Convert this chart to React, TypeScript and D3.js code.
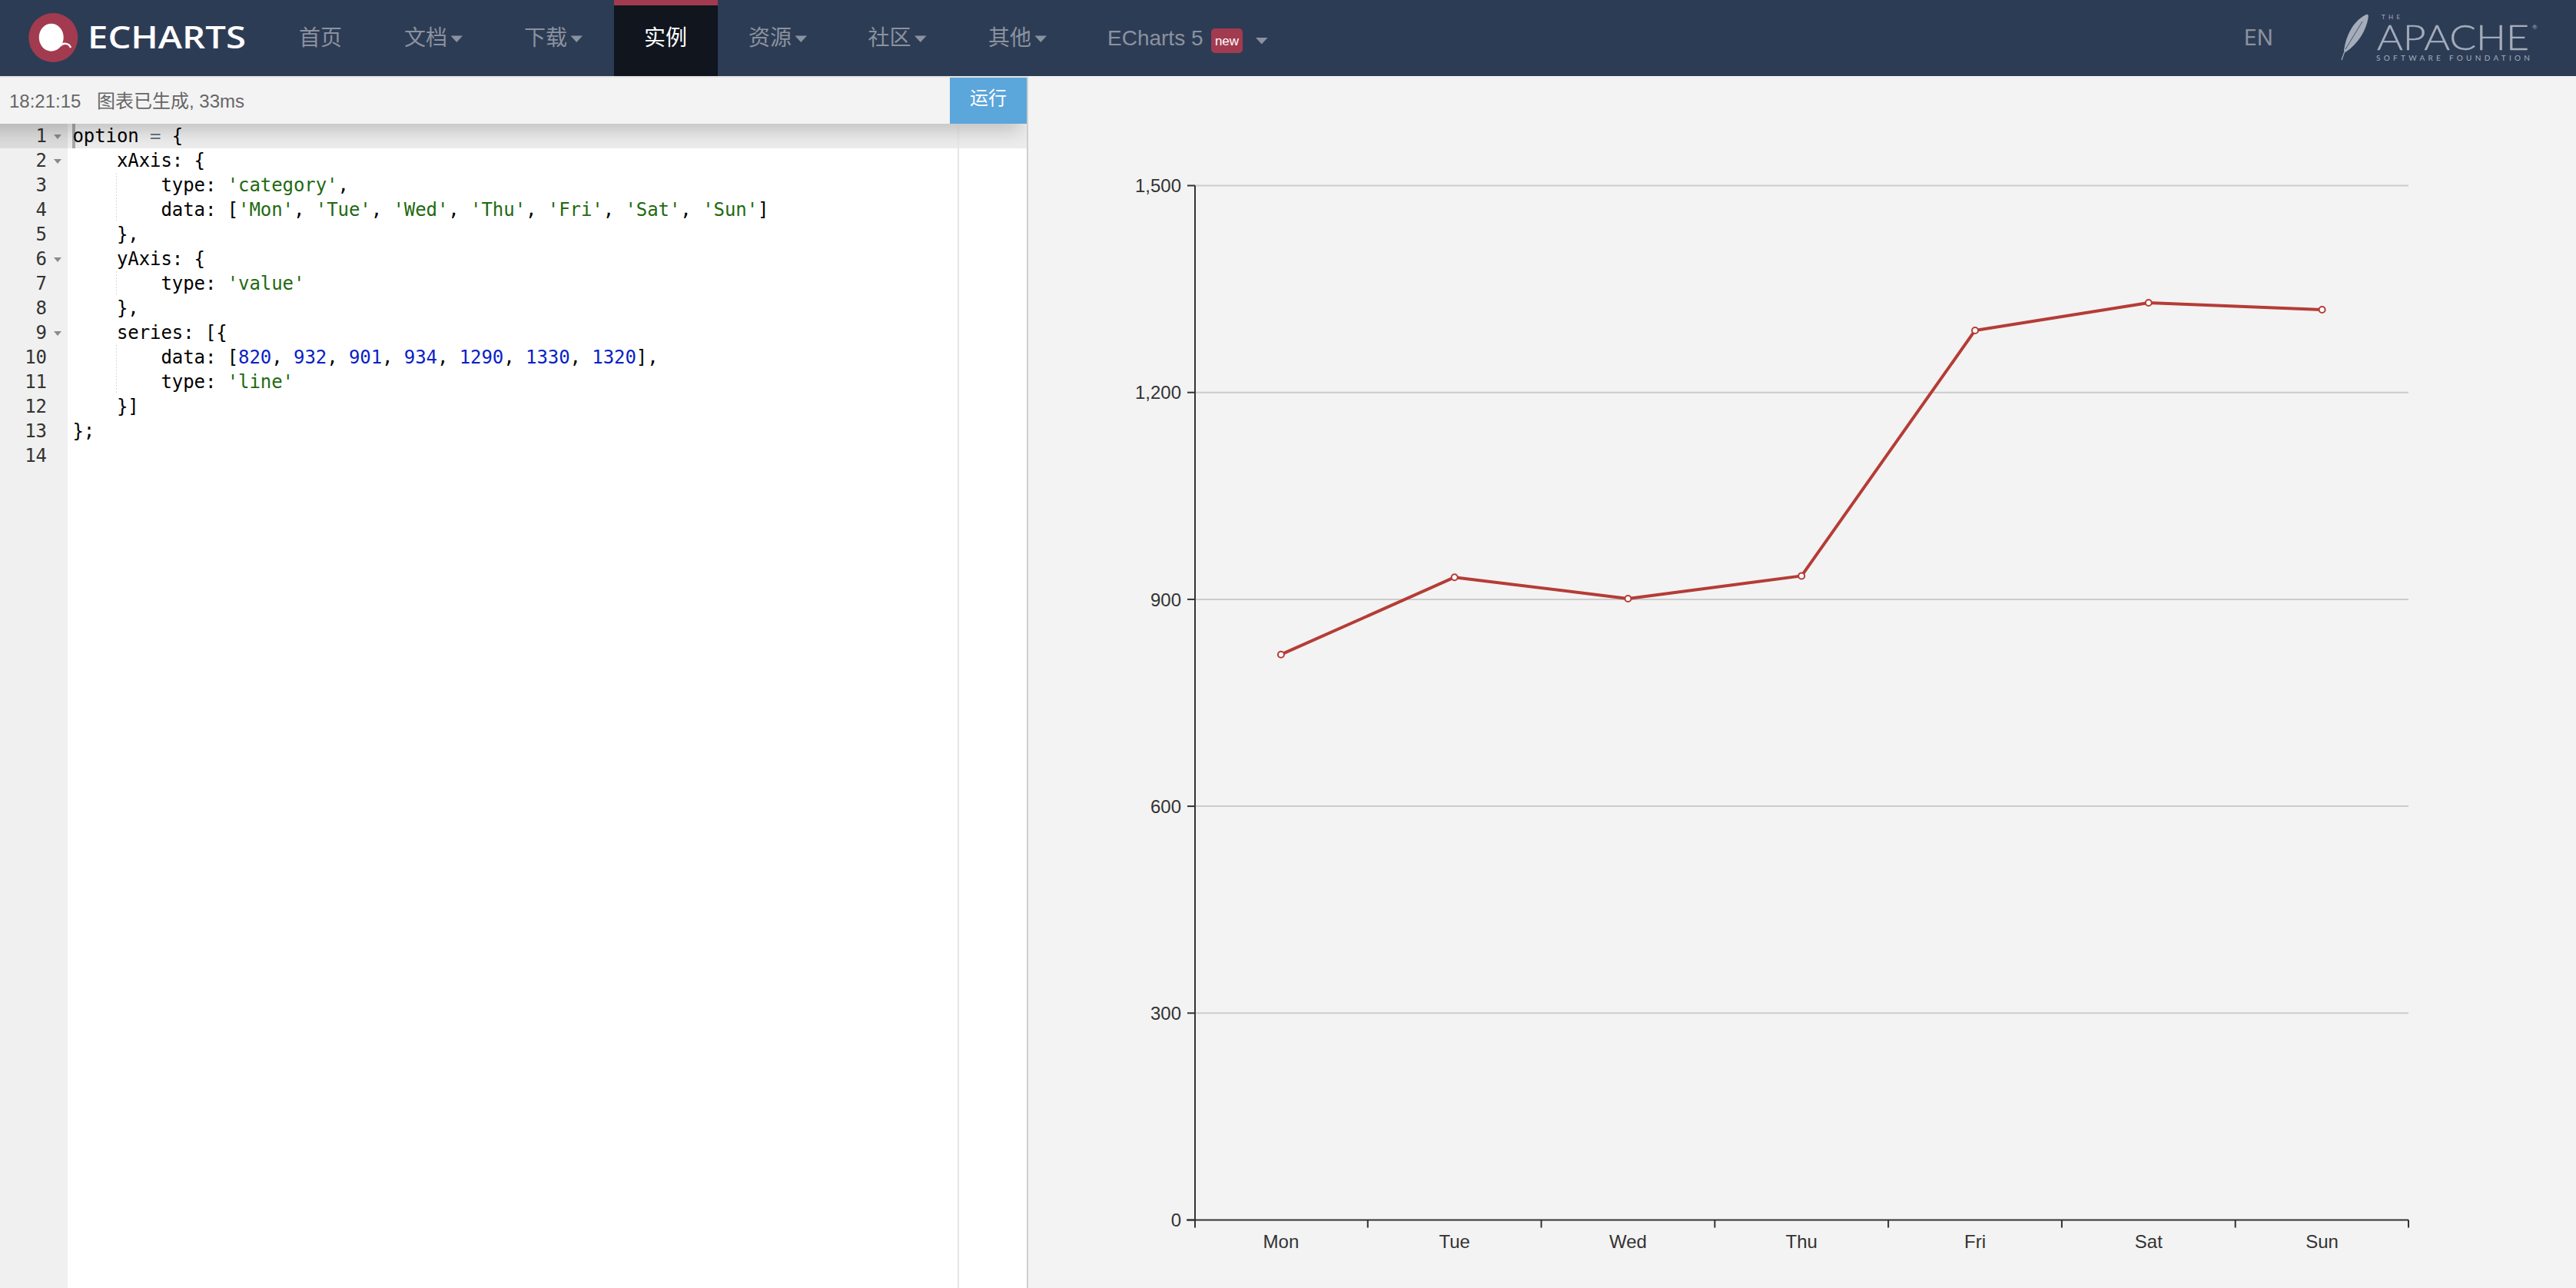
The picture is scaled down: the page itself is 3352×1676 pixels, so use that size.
import * as d3 from "d3";
import { useEffect, useRef } from "react";

const days = ["Mon", "Tue", "Wed", "Thu", "Fri", "Sat", "Sun"];
const values = [820, 932, 901, 934, 1290, 1330, 1320];
const yTicks = [0, 300, 600, 900, 1200, 1500];

const navItems = [
  { label: "首页", x: 389, caret: false },
  { label: "文档", x: 526, caret: true },
  { label: "下载", x: 682, caret: true },
  { label: "实例", x: 838, caret: false, active: true },
  { label: "资源", x: 974, caret: true },
  { label: "社区", x: 1129.5, caret: true },
  { label: "其他", x: 1286, caret: true },
];

// token classes follow the ace chrome theme
const tokenColors: Record<string, string> = {
  t: "#000000",
  s: "#1f6a10",
  n: "#0a1fc8",
  o: "#687687",
};
const codeLines: [string, string][][] = [
  [["option ", "t"], ["=", "o"], [" {", "t"]],
  [["    xAxis: {", "t"]],
  [["        type: ", "t"], ["'category'", "s"], [",", "t"]],
  [
    ["        data: [", "t"],
    ["'Mon'", "s"], [", ", "t"],
    ["'Tue'", "s"], [", ", "t"],
    ["'Wed'", "s"], [", ", "t"],
    ["'Thu'", "s"], [", ", "t"],
    ["'Fri'", "s"], [", ", "t"],
    ["'Sat'", "s"], [", ", "t"],
    ["'Sun'", "s"], ["]", "t"],
  ],
  [["    },", "t"]],
  [["    yAxis: {", "t"]],
  [["        type: ", "t"], ["'value'", "s"]],
  [["    },", "t"]],
  [["    series: [{", "t"]],
  [
    ["        data: [", "t"],
    ["820", "n"], [", ", "t"],
    ["932", "n"], [", ", "t"],
    ["901", "n"], [", ", "t"],
    ["934", "n"], [", ", "t"],
    ["1290", "n"], [", ", "t"],
    ["1330", "n"], [", ", "t"],
    ["1320", "n"], ["],", "t"],
  ],
  [["        type: ", "t"], ["'line'", "s"]],
  [["    }]", "t"]],
  [["};", "t"]],
  [],
];
const foldLines = [1, 2, 6, 9];
const guideLines = [3, 4, 7, 10, 11];

const W = 3352;
const H = 1676;
const SANS = '"Liberation Sans", "Noto Sans CJK SC", sans-serif';
const MONO = '"DejaVu Sans Mono", monospace';
const NAV_GREY = "#8b929f";
const LOGO_RED = "#a23b4f";
const LINE_RED = "#b53c36";
const APACHE_GREY = "#a5adbb";
const plot = { left: 1555, right: 3134, bandLeft: 1554, bandRight: 3134.5, top: 241.5, bottom: 1587.5 };
const code = { top: 161, lineH: 32, left: 94.4, gutter: 88, right: 1336 };

const drawChart = (target: SVGGElement) => {
  const root = d3.select(target);
  root.selectAll("*").remove();

  const x = d3.scaleBand().domain(days).range([plot.bandLeft, plot.bandRight]);
  const y = d3.scaleLinear().domain([0, 1500]).range([plot.bottom, plot.top]);

  // grid first so the axes sit on top
  const grid = root
    .append("g")
    .attr("transform", `translate(${plot.left},0)`)
    .call(
      d3
        .axisLeft(y)
        .tickValues(yTicks.slice(1))
        .tickSize(-(plot.right - plot.left))
        .tickFormat(() => "")
        .offset(0)
    );
  grid.select(".domain").remove();
  grid.selectAll("line").attr("stroke", "#cccccc").attr("stroke-width", 2);

  const yAxis = root
    .append("g")
    .attr("transform", `translate(${plot.left},0)`)
    .call(
      d3
        .axisLeft(y)
        .tickValues(yTicks)
        .tickSize(10)
        .tickSizeOuter(0)
        .tickPadding(8)
        .tickFormat(d3.format(",") as any)
        .offset(0)
    );
  yAxis.selectAll("text").attr("dy", "0.36em");

  const xAxis = root
    .append("g")
    .attr("transform", `translate(0,${plot.bottom})`)
    .call(d3.axisBottom(x).tickSize(0).tickPadding(19.5).offset(0));
  xAxis.selectAll(".tick line").remove();
  xAxis.select(".domain").attr("d", `M${plot.left - 11},0H${plot.right}`);

  // category axis ticks go on the band edges, not the centres
  xAxis
    .selectAll("line.edge")
    .data([...days.map((d) => Math.max(x(d) as number, plot.left)), plot.right])
    .join("line")
    .attr("class", "edge")
    .attr("x1", (d) => d)
    .attr("x2", (d) => d)
    .attr("y1", 0)
    .attr("y2", 10)
    .attr("stroke", "#333333")
    .attr("stroke-width", 2);

  [yAxis, xAxis].forEach((axis) => {
    axis.attr("font-family", SANS).attr("font-size", 24);
    axis.selectAll("text").attr("fill", "#333333");
    axis.selectAll(".tick line").attr("stroke", "#333333").attr("stroke-width", 2);
    axis.select(".domain").attr("stroke", "#333333").attr("stroke-width", 2);
  });

  const points = days.map((d, i) => ({
    x: (x(d) as number) + x.bandwidth() / 2,
    y: y(values[i]),
  }));
  const line = d3
    .line<{ x: number; y: number }>()
    .x((d) => d.x)
    .y((d) => d.y);

  root
    .append("path")
    .attr("d", line(points))
    .attr("fill", "none")
    .attr("stroke", LINE_RED)
    .attr("stroke-width", 4)
    .attr("stroke-linejoin", "bevel");

  root
    .append("g")
    .selectAll("circle")
    .data(points)
    .join("circle")
    .attr("cx", (d) => d.x)
    .attr("cy", (d) => d.y)
    .attr("r", 4)
    .attr("fill", "#ffffff")
    .attr("stroke", LINE_RED)
    .attr("stroke-width", 2);
};

const caret = (x: number, y: number, w = 15.5, h = 8.5) =>
  `M${x},${y}L${x + w},${y}L${x + w / 2},${y + h}Z`;

const App = () => {
  const chartRef = useRef<SVGGElement>(null);
  useEffect(() => {
    if (chartRef.current) drawChart(chartRef.current);
  }, []);

  const baseline = (i: number) => code.top + 24 + i * code.lineH;

  return (
    <svg
      width={W}
      height={H}
      viewBox={`0 0 ${W} ${H}`}
      style={{ position: "absolute", left: 0, top: 0, display: "block" }}
      fontFamily={SANS}
    >
      <defs>
        <filter id="barShadow" x="-5%" y="-100%" width="110%" height="300%">
          <feGaussianBlur stdDeviation="12" />
        </filter>
        <clipPath id="belowBar">
          <rect x={0} y={161} width={code.right} height={80} />
        </clipPath>
      </defs>

      <rect width={W} height={H} fill="#f3f3f3" />

      {/* editor pane */}
      <rect x={0} y={99} width={code.right} height={H - 99} fill="#ffffff" />
      <rect x={0} y={99} width={code.gutter} height={H - 99} fill="#f0f0f0" />
      <rect x={code.gutter} y={161} width={code.right - code.gutter} height={32} fill="#ececec" />
      <rect x={0} y={161} width={code.gutter} height={32} fill="#dcdcdc" />
      <rect x={1246} y={161} width={2} height={H - 161} fill="#e6e6e6" />
      <rect x={1336} y={99} width={2} height={H - 99} fill="#cfcfcf" />
      <rect x={94} y={161} width={4} height={32} fill="#a8a8a8" />

      {guideLines.map((n) => (
        <line
          key={n}
          x1={151.5}
          x2={151.5}
          y1={code.top + (n - 1) * code.lineH}
          y2={code.top + n * code.lineH}
          stroke="#d8d8d8"
          strokeWidth={1}
          strokeDasharray="2 2"
        />
      ))}

      {codeLines.map((_, i) => (
        <text
          key={i}
          x={61}
          y={baseline(i)}
          textAnchor="end"
          fontFamily={MONO}
          fontSize={24}
          letterSpacing={-0.07}
          fill="#333333"
        >
          {i + 1}
        </text>
      ))}
      {foldLines.map((n) => (
        <path
          key={n}
          d={caret(70, code.top + (n - 1) * code.lineH + 14, 10, 6)}
          fill="#8a8a8a"
        />
      ))}
      {codeLines.map((tokens, i) => (
        <text
          key={i}
          x={code.left}
          y={baseline(i)}
          fontFamily={MONO}
          fontSize={24}
          letterSpacing={-0.07}
          style={{ whiteSpace: "pre" }}
        >
          {tokens.map(([t, c], j) => (
            <tspan key={j} fill={tokenColors[c]}>
              {t}
            </tspan>
          ))}
        </text>
      ))}

      {/* status bar */}
      <g clipPath="url(#belowBar)">
        <rect x={-30} y={143} width={1358} height={26} fill="#000000" opacity={0.2} filter="url(#barShadow)" />
      </g>
      <rect x={0} y={99} width={code.right + 2} height={2} fill="#e4e4e4" />
      <rect x={0} y={101} width={1236} height={60} fill="#f3f3f3" />
      <rect x={1236} y={101} width={100} height={60} fill="#5ba6da" />
      <text x={1286} y={136} textAnchor="middle" fontSize={24} fill="#ffffff">
        运行
      </text>
      <text x={12} y={140} fontSize={24} fill="#666666">
        18:21:15
      </text>
      <text x={126} y={140} fontSize={24} fill="#666666">
        图表已生成, 33ms
      </text>

      {/* navbar */}
      <rect x={0} y={0} width={W} height={99} fill="#2d3c55" />
      <rect x={799} y={0} width={135} height={99} fill="#10151e" />
      <rect x={799} y={0} width={135} height={7} fill={LOGO_RED} />

      <circle cx={69.3} cy={49} r={32} fill={LOGO_RED} />
      <ellipse cx={66.7} cy={48.7} rx={16} ry={18} fill="#ffffff" />
      <path d="M78,60C82,55 90,56 92,62" fill="none" stroke="#ffffff" strokeWidth={2.5} />
      <text
        x={114}
        y={63}
        fontFamily='"Open Sans", sans-serif'
        fontWeight={600}
        fontSize={39}
        fill="#ffffff"
        textLength={206}
        lengthAdjust="spacingAndGlyphs"
      >
        ECHARTS
      </text>

      {navItems.map((d) => (
        <g key={d.label}>
          <text x={d.x} y={59} fontSize={28} fill={d.active ? "#ffffff" : NAV_GREY}>
            {d.label}
          </text>
          {d.caret && <path d={caret(d.x + 60.5, 46.5)} fill={NAV_GREY} />}
        </g>
      ))}

      <text x={1441} y={59} fontSize={28} fill={NAV_GREY}>
        ECharts 5
      </text>
      <rect x={1576} y={37} width={41} height={32} rx={5} fill={LOGO_RED} />
      <text x={1596.5} y={59} textAnchor="middle" fontSize={17} fill="#ffffff">
        new
      </text>
      <path d={caret(1634, 49)} fill={NAV_GREY} />

      <text x={2920} y={59} fontSize={28} fontFamily="Inter, sans-serif" fill={NAV_GREY}>
        EN
      </text>

      {/* apache logo */}
      <path
        d="M3050,66C3052,50 3060,28 3079,19C3082,18 3082,20 3081.5,24C3079,38 3070,56 3052,68Z"
        fill={APACHE_GREY}
      />
      <path d="M3047,78L3052,64" stroke={APACHE_GREY} strokeWidth={1.2} fill="none" />
      <path d="M3052,64L3074,28" stroke="#2d3c55" strokeWidth={0.8} fill="none" />
      <text x={3099} y={25} fontFamily="Lato, sans-serif" fontSize={8} fill={APACHE_GREY} textLength={24}>
        THE
      </text>
      <text
        x={3093}
        y={65}
        fontFamily="Lato, sans-serif"
        fontWeight={300}
        fontSize={46}
        fill={APACHE_GREY}
        stroke={APACHE_GREY}
        strokeWidth={0.4}
        textLength={198}
        lengthAdjust="spacingAndGlyphs"
      >
        APACHE
      </text>
      <text x={3295} y={38} fontFamily="Lato, sans-serif" fontSize={8} fill={APACHE_GREY}>
        ®
      </text>
      <text
        x={3092}
        y={79}
        fontFamily="Lato, sans-serif"
        fontSize={10}
        fill={APACHE_GREY}
        textLength={200}
      >
        SOFTWARE FOUNDATION
      </text>

      <g ref={chartRef} />
    </svg>
  );
};

export default App;
